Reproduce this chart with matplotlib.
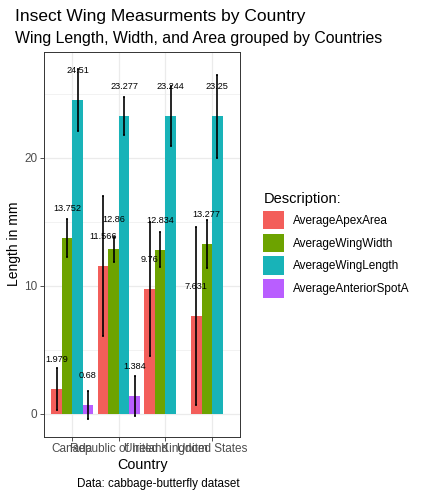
import numpy as np
import matplotlib
matplotlib.use("Agg")
import matplotlib.pyplot as plt
from matplotlib.patches import Patch

plt.rcParams['font.family'] = ['Liberation Sans', 'DejaVu Sans']

countries = ["Canada", "Republic of Ireland", "United Kingdom", "United States"]
series = ["AverageApexArea", "AverageWingWidth", "AverageWingLength", "AverageAnteriorSpotA"]
colors = ["#F35E5A", "#6DA300", "#18B3B8", "#B95EFF"]

apex_area = [1.979, 11.566, 9.76, 7.631]
wing_width = [13.752, 12.86, 12.834, 13.277]
wing_length = [24.51, 23.277, 23.244, 23.25]
spot_area = [0.68, 1.384, np.nan, np.nan]

apex_err = [1.64, 5.5, 5.2, 6.95]
width_err = [1.5, 1.0, 1.37, 1.9]
length_err = [2.4, 1.46, 2.35, 3.25]
spot_err = [1.1, 1.57, np.nan, np.nan]

values = [apex_area, wing_width, wing_length, spot_area]
errors = [apex_err, width_err, length_err, spot_err]

fig = plt.figure(figsize=(4.24, 4.97), dpi=100)
ax = fig.add_axes([0.1045, 0.1217, 0.4615, 0.7743])

x = np.arange(1, len(countries) + 1)
w = 0.225
offsets = [-1.5 * w, -0.5 * w, 0.5 * w, 1.5 * w]

for vals, errs, col, off in zip(values, errors, colors, offsets):
    for xi, v, e in zip(x, vals, errs):
        if np.isnan(v):
            continue
        ax.bar(xi + off, v, width=w, color=col, zorder=2)
        ax.errorbar(xi + off, v, yerr=e, fmt='none', ecolor='black',
                    elinewidth=1.2, capsize=1, capthick=1.2, zorder=3)
        ax.text(xi + off, v + 2.3, f"{v:g}", ha='center', va='center',
                fontsize=6.6, color='black', zorder=4)

ax.set_xlim(0.4, 4.6)
ax.set_ylim(-1.76, 28.3)
ax.set_xticks(x)
ax.set_xticklabels(countries, fontsize=8.5, color='#4D4D4D')
ax.set_yticks([0, 10, 20])
ax.set_yticklabels(["0", "10", "20"], fontsize=8.5, color='#4D4D4D')
ax.set_yticks([5, 15, 25], minor=True)
ax.tick_params(axis='both', which='major', length=3, width=0.6, color='#333333', pad=2)
ax.tick_params(axis='y', which='minor', length=0)
ax.grid(which='major', color='#EBEBEB', linewidth=0.9, zorder=0)
ax.grid(which='minor', axis='y', color='#EBEBEB', linewidth=0.45, zorder=0)
ax.set_axisbelow(True)
for s in ax.spines.values():
    s.set_color('#333333')
    s.set_linewidth(0.7)

ax.set_xlabel("Country", fontsize=10.4, labelpad=1.5)
ax.set_ylabel("Length in mm", fontsize=10, labelpad=2)

fig.text(15 / 424, 1 - 16 / 497, "Insect Wing Measurments by Country",
         fontsize=12.5, ha='left', va='center')
fig.text(15 / 424, 1 - 38.5 / 497, "Wing Length, Width, and Area grouped by Countries",
         fontsize=11.4, ha='left', va='center')
fig.text(240 / 424, 1 - 484 / 497, "Data: cabbage-butterfly dataset",
         fontsize=8.4, ha='right', va='center')

handles = [Patch(facecolor=c, edgecolor='none') for c in colors]
leg = fig.legend(handles, series, title="Description:", loc='upper left',
                 bbox_to_anchor=(255 / 424, 1 - 184 / 497), frameon=False,
                 fontsize=8.5, title_fontsize=10.5, handlelength=1.78, handleheight=2.04,
                 labelspacing=0.37, handletextpad=0.7, borderaxespad=0.3)
leg._legend_box.align = 'left'

fig.savefig("out.png", dpi=100)
